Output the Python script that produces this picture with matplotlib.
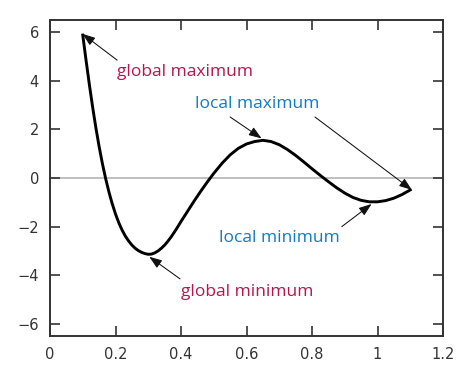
import matplotlib
matplotlib.use("Agg")
import matplotlib.pyplot as plt
from matplotlib.ticker import FormatStrFormatter

# curve values
x = [0.100, 0.110, 0.120, 0.130, 0.140, 0.150, 0.160, 0.170, 0.180, 0.190,
     0.200, 0.210, 0.220, 0.230, 0.240, 0.250, 0.260, 0.270, 0.280, 0.290,
     0.300, 0.310, 0.320, 0.330, 0.340, 0.350, 0.360, 0.370, 0.380, 0.390,
     0.400, 0.410, 0.420, 0.430, 0.440, 0.450, 0.460, 0.470, 0.480, 0.490,
     0.500, 0.525, 0.550, 0.575, 0.600, 0.625, 0.650, 0.675, 0.700, 0.725,
     0.750, 0.775, 0.800, 0.825, 0.850, 0.875, 0.900, 0.925, 0.950, 0.975,
     1.000, 1.025, 1.050, 1.075, 1.100]
y = [5.88, 4.85, 3.86, 2.93, 2.07, 1.29, 0.59, -0.03, -0.58, -1.06,
     -1.48, -1.84, -2.14, -2.39, -2.59, -2.76, -2.89, -2.99, -3.06, -3.11,
     -3.14, -3.13, -3.08, -3.00, -2.89, -2.76, -2.60, -2.42, -2.22, -2.01,
     -1.79, -1.58, -1.37, -1.16, -0.95, -0.75, -0.55, -0.36, -0.17, 0.01,
     0.19, 0.60, 0.95, 1.22, 1.40, 1.50, 1.55, 1.50, 1.37, 1.17,
     0.93, 0.66, 0.38, 0.11, -0.15, -0.40, -0.62, -0.80, -0.92, -0.98,
     -0.98, -0.93, -0.83, -0.68, -0.49]

xticks = [0, 0.2, 0.4, 0.6, 0.8, 1.0, 1.2]
yticks = [-6, -4, -2, 0, 2, 4, 6]

red = "#b8154a"
blue = "#0f7cc4"

fig = plt.figure(figsize=(4.74, 3.79), dpi=100)
ax = fig.add_axes([0.1055, 0.1135, 0.8291, 0.8337])

ax.axhline(0, color="#b4b4b4", lw=1.2, zorder=1)
ax.plot(x, y, color="black", lw=2.1, zorder=3, solid_joinstyle="round")

ax.set_xlim(0, 1.2)
ax.set_ylim(-6.5, 6.5)
ax.set_xticks(xticks)
ax.set_yticks(yticks)
ax.xaxis.set_major_formatter(FormatStrFormatter("%g"))
ax.tick_params(direction="in", length=7, width=1.2, color="#333333",
               labelsize=10.5, labelcolor="#333333", top=True, right=True, pad=8)
for s in ax.spines.values():
    s.set_color("#333333")
    s.set_linewidth(1.4)

aprops = dict(arrowstyle="-|>,head_length=0.55,head_width=0.2", color="#111111",
              lw=0.75, mutation_scale=14, shrinkA=0, shrinkB=0)
font = dict(family=["Open Sans", "DejaVu Sans"], fontsize=12.5, ha="center", va="center")

# global maximum
ax.text(0.412, 4.36, "global maximum", color=red, **font)
ax.annotate("", xy=(0.099, 5.93), xytext=(0.205, 4.85), arrowprops=aprops)

# local maximum (two arrows)
ax.text(0.634, 3.04, "local maximum", color=blue, **font)
ax.annotate("", xy=(0.646, 1.63), xytext=(0.550, 2.51), arrowprops=aprops)
ax.annotate("", xy=(1.105, -0.49), xytext=(0.809, 2.51), arrowprops=aprops)

# local minimum
ax.text(0.701, -2.47, "local minimum", color=blue, **font)
ax.annotate("", xy=(0.982, -1.07), xytext=(0.891, -2.0), arrowprops=aprops)

# global minimum
ax.text(0.602, -4.67, "global minimum", color=red, **font)
ax.annotate("", xy=(0.303, -3.24), xytext=(0.397, -4.15), arrowprops=aprops)

fig.savefig("out.png", dpi=100)
